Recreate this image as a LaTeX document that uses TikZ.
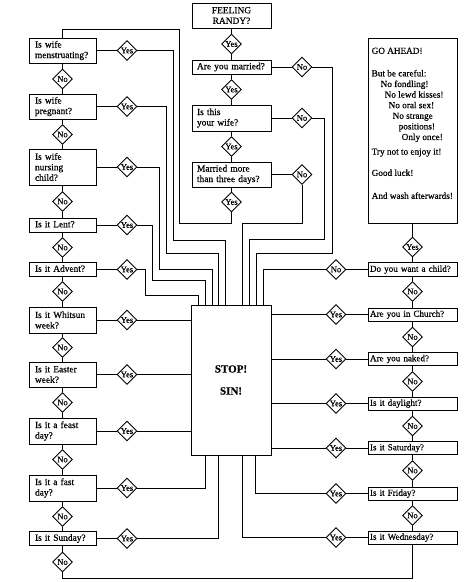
\documentclass[tikz,border=0pt]{standalone}
\usepackage{fontspec}
\setmainfont{Liberation Serif}[FakeBold=0.5]
\usetikzlibrary{shapes.geometric}
\tikzset{
  ln/.style={line width=0.85pt},
  qbox/.style={draw, line width=0.85pt, rectangle, inner ysep=0pt, align=left,
    font=\fontsize{9.4}{10.5}\selectfont},
  sl/.style={text height=6.5pt, text depth=2pt},
  lbox/.style={qbox, text width=55pt, inner xsep=6pt},
  cbox/.style={qbox, text width=69pt, inner xsep=5pt},
  rbox/.style={qbox, text width=85pt, inner xsep=2pt, font=\fontsize{9.1}{10.5}\selectfont},
  dia/.style={draw, diamond, line width=0.85pt, inner sep=0pt, minimum width=20pt,
    minimum height=20pt, fill=white, font=\fontsize{8.5}{9}\selectfont},
}
\begin{document}
\begin{tikzpicture}[x=1pt,y=-1pt]
\useasboundingbox (0,0) rectangle (474,582);
% ---------- centre top column
\node[cbox, align=center, minimum height=25pt] (randy) at (231.5,15.5) {FEELING\\RANDY?};
\node[dia] (cy1) at (231.5,44) {Yes};
\node[cbox, sl, minimum height=14pt] (married) at (231.5,67) {Are you married?};
\node[dia] (cy2) at (231.5,89.5) {Yes};
\node[cbox, minimum height=26pt] (wife) at (231.5,118) {Is this\\your wife?};
\node[dia] (cy3) at (231.5,146.5) {Yes};
\node[cbox, minimum height=25pt] (three) at (231.5,174.5) {Married more\\than three days?};
\node[dia] (cy4) at (231.5,202) {Yes};
\node[dia] (cn1) at (302,67) {No};
\node[dia] (cn2) at (302,118) {No};
\node[dia] (cn3) at (302,174.5) {No};
% ---------- left column
\node[lbox, minimum height=25pt] (mens) at (62.5,50.5) {Is wife\\menstruating?};
\node[dia] (mn1) at (62.5,79) {No};
\node[lbox, minimum height=25pt] (preg) at (62.5,106.5) {Is wife\\pregnant?};
\node[dia] (mn2) at (62.5,134.5) {No};
\node[lbox, minimum height=36pt] (nurse) at (62.5,167) {Is wife\\nursing\\child?};
\node[dia] (mn3) at (62.5,201.5) {No};
\node[lbox, sl, minimum height=14pt] (lent) at (62.5,225) {Is it Lent?};
\node[dia] (mn4) at (62.5,247.5) {No};
\node[lbox, sl, minimum height=14pt] (advent) at (62.5,269.5) {Is it Advent?};
\node[dia] (mn5) at (62.5,291.5) {No};
\node[lbox, minimum height=26pt] (whit) at (62.5,320) {Is it Whitsun\\week?};
\node[dia] (mn6) at (62.5,347.5) {No};
\node[lbox, minimum height=25pt] (easter) at (62.5,374.5) {Is it Easter\\week?};
\node[dia] (mn7) at (62.5,402.5) {No};
\node[lbox, minimum height=26pt] (feast) at (62.5,431) {Is it a feast\\day?};
\node[dia] (mn8) at (62.5,459.5) {No};
\node[lbox, minimum height=26pt] (fast) at (62.5,488) {Is it a fast\\day?};
\node[dia] (mn9) at (62.5,516.5) {No};
\node[lbox, sl, minimum height=14pt] (sunday) at (62.5,538.5) {Is it Sunday?};
\node[dia] (mn10) at (62.5,562) {No};
\foreach \n/\y in {1/50.5,2/106.5,3/167,4/225,5/269.5,6/320,7/374.5,8/431,9/488,10/538.5}
  \node[dia] (ly\n) at (127,\y) {Yes};
% ---------- stop box
\node[draw, line width=0.85pt, inner sep=0pt, minimum width=80pt, minimum height=150pt,
  align=center, font=\fontsize{11}{13}\selectfont\bfseries] (stop) at (231,380)
  {STOP!\\[9pt]SIN!};
% ---------- right column
\node[draw, line width=0.85pt, inner sep=0pt, minimum width=89pt, minimum height=185pt]
  (goahead) at (412.5,130.5) {};
\node[anchor=north west, inner sep=0pt, align=left,
  font=\fontsize{9.2}{10.6}\selectfont] (gotext) at (371.5,47.5)
  {GO AHEAD!\\[12pt]
   But be careful:\\
   \hspace*{9pt}No fondling!\\
   \hspace*{13pt}No lewd kisses!\\
   \hspace*{17pt}No oral sex!\\
   \hspace*{21pt}No strange\\
   \hspace*{27pt}positions!\\
   \hspace*{30pt}Only once!\\[4pt]
   Try not to enjoy it!\\[10.7pt]
   Good luck!\\[12.4pt]
   And wash afterwards!};
\node[dia] (ry1) at (412.5,247) {Yes};
\node[rbox, sl, minimum height=14pt] (child) at (412.5,269.5) {Do you want a child?};
\node[dia] (rn1) at (412.5,291.5) {No};
\node[rbox, sl, minimum height=13pt] (church) at (412.5,314.5) {Are you in Church?};
\node[dia] (rn2) at (412.5,337) {No};
\node[rbox, sl, minimum height=13pt] (naked) at (412.5,359) {Are you naked?};
\node[dia] (rn3) at (412.5,381.5) {No};
\node[rbox, sl, minimum height=13pt] (daylight) at (412.5,403.5) {Is it daylight?};
\node[dia] (rn4) at (412.5,426) {No};
\node[rbox, sl, minimum height=13pt] (saturday) at (412.5,448) {Is it Saturday?};
\node[dia] (rn5) at (412.5,470.5) {No};
\node[rbox, sl, minimum height=13pt] (friday) at (412.5,493.5) {Is it Friday?};
\node[dia] (rn6) at (412.5,515.5) {No};
\node[rbox, sl, minimum height=13pt] (wed) at (412.5,537.5) {Is it Wednesday?};
\node[dia] (rc) at (336,269.5) {No};
\foreach \n/\y in {2/314.5,3/359,4/403.5,5/448,6/493.5,7/537.5}
  \node[dia] (ry\n) at (336,\y) {Yes};
% ---------- connectors: centre column
\draw[ln] (randy) -- (cy1) -- (married) -- (cy2) -- (wife) -- (cy3) -- (three) -- (cy4);
\draw[ln] (cy4.south) |- (179,223) |- (62.5,29) -- (mens.north);
\draw[ln] (married) -- (cn1);
\draw[ln] (cn1.east) -| (332,253) -| (256,0 |- stop.north);
\draw[ln] (wife) -- (cn2);
\draw[ln] (cn2.east) -| (324,239) -| (249,0 |- stop.north);
\draw[ln] (three) -- (cn3);
\draw[ln] (cn3.south) |- (242,223) -- (242,0 |- stop.north);
% ---------- connectors: left column
\draw[ln] (mens) -- (mn1) -- (preg) -- (mn2) -- (nurse) -- (mn3) -- (lent) -- (mn4)
  -- (advent) -- (mn5) -- (whit) -- (mn6) -- (easter) -- (mn7) -- (feast) -- (mn8)
  -- (fast) -- (mn9) -- (sunday) -- (mn10);
\draw[ln] (mn10.south) |- (412.5,578) -- (wed.south);
\draw[ln] (mens) -- (ly1);
\draw[ln] (ly1.east) -| (173,240) -| (225,0 |- stop.north);
\draw[ln] (preg) -- (ly2);
\draw[ln] (ly2.east) -| (166,253) -| (218,0 |- stop.north);
\draw[ln] (nurse) -- (ly3);
\draw[ln] (ly3.east) -| (159,269) -| (212,0 |- stop.north);
\draw[ln] (lent) -- (ly4);
\draw[ln] (ly4.east) -| (152,280) -| (205,0 |- stop.north);
\draw[ln] (advent) -- (ly5);
\draw[ln] (ly5.east) -| (145,295) -| (198,0 |- stop.north);
\draw[ln] (whit) -- (ly6) -- (stop.west |- ly6);
\draw[ln] (easter) -- (ly7) -- (stop.west |- ly7);
\draw[ln] (feast) -- (ly8) -- (stop.west |- ly8);
\draw[ln] (fast) -- (ly9);
\draw[ln] (ly9.east) -| (205,0 |- stop.south);
\draw[ln] (sunday) -- (ly10);
\draw[ln] (ly10.east) -| (218,0 |- stop.south);
% ---------- connectors: right column
\draw[ln] (goahead) -- (ry1) -- (child) -- (rn1) -- (church) -- (rn2) -- (naked) -- (rn3)
  -- (daylight) -- (rn4) -- (saturday) -- (rn5) -- (friday) -- (rn6) -- (wed);
\draw[ln] (child) -- (rc);
\draw[ln] (rc.west) -| (263,0 |- stop.north);
\draw[ln] (church) -- (ry2) -- (stop.east |- ry2);
\draw[ln] (naked) -- (ry3) -- (stop.east |- ry3);
\draw[ln] (daylight) -- (ry4) -- (stop.east |- ry4);
\draw[ln] (saturday) -- (ry5) -- (stop.east |- ry5);
\draw[ln] (friday) -- (ry6);
\draw[ln] (ry6.west) -| (255,0 |- stop.south);
\draw[ln] (wed) -- (ry7);
\draw[ln] (ry7.west) -| (242,0 |- stop.south);
\end{tikzpicture}
\end{document}
